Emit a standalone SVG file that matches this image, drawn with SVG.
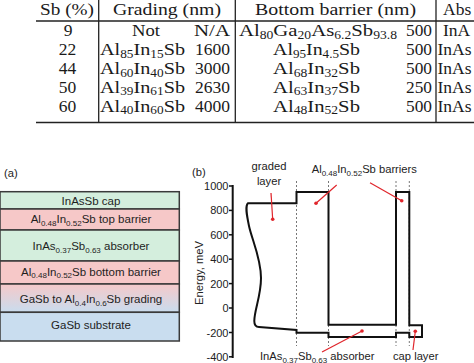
<svg xmlns="http://www.w3.org/2000/svg" width="474" height="363" viewBox="0 0 474 363">
<style>
.tb{font-family:"Liberation Serif",serif;font-size:17.5px;fill:#1a1a1a}
.sub{font-size:11.5px}
.tl{stroke:#222;stroke-width:1.3;fill:none}
.ls{font-family:"Liberation Sans",Arial,sans-serif;font-size:11.5px;fill:#1e1e1e;text-anchor:middle}
.ss{font-size:8px}
.lay{stroke:#3a3a3a;stroke-width:1.5}
.tick{font-family:"Liberation Sans",Arial,sans-serif;font-size:11px;fill:#222;text-anchor:end}
.ann{font-family:"Liberation Sans",Arial,sans-serif;font-size:11.2px;fill:#222}
.band{stroke:#111;stroke-width:2;fill:none;stroke-linejoin:miter}
.dash{stroke:#777;stroke-width:1;stroke-dasharray:2 2}
.red{stroke:#e0252b;stroke-width:1.2;fill:none}
.dot{fill:#e0252b}
</style>
<defs>
<linearGradient id="grad" x1="0" y1="0" x2="0" y2="1">
<stop offset="0" stop-color="#f5c9c9"/>
<stop offset="1" stop-color="#c9dcee"/>
</linearGradient>
</defs>
<g id="table">
<line class="tl" x1="36" y1="21" x2="474" y2="21"/>
<line class="tl" x1="36" y1="122.5" x2="474" y2="122.5"/>
<line class="tl" x1="98.7" y1="0" x2="98.7" y2="122.5"/>
<line class="tl" x1="235.3" y1="0" x2="235.3" y2="122.5"/>
<line class="tl" x1="436" y1="0" x2="436" y2="122.5"/>
<text class="tb" x="40" y="15" textLength="54" lengthAdjust="spacingAndGlyphs">Sb (%)</text>
<text class="tb" x="113" y="15" textLength="108" lengthAdjust="spacingAndGlyphs">Grading (nm)</text>
<text class="tb" x="255" y="15" textLength="161" lengthAdjust="spacingAndGlyphs">Bottom barrier (nm)</text>
<text class="tb" x="443" y="15">Abs</text>
<text class="tb" x="68" y="36" text-anchor="middle">9</text>
<text class="tb" x="132" y="36" textLength="28" lengthAdjust="spacingAndGlyphs">Not</text>
<text class="tb" x="194" y="36" textLength="36" lengthAdjust="spacingAndGlyphs">N/A</text>
<text class="tb" x="239" y="36" textLength="158" lengthAdjust="spacingAndGlyphs">Al<tspan class="sub" dy="2.5">80</tspan><tspan dy="-2.5">Ga</tspan><tspan class="sub" dy="2.5">20</tspan><tspan dy="-2.5">As</tspan><tspan class="sub" dy="2.5">6.2</tspan><tspan dy="-2.5">Sb</tspan><tspan class="sub" dy="2.5">93.8</tspan></text>
<text class="tb" x="406" y="36" textLength="26" lengthAdjust="spacingAndGlyphs">500</text>
<text class="tb" x="443" y="36">InA</text>
<text class="tb" x="67.5" y="55" text-anchor="middle">22</text>
<text class="tb" x="100" y="55" textLength="85" lengthAdjust="spacingAndGlyphs">Al<tspan class="sub" dy="2.5">85</tspan><tspan dy="-2.5">In</tspan><tspan class="sub" dy="2.5">15</tspan><tspan dy="-2.5">Sb</tspan></text>
<text class="tb" x="195" y="55" textLength="35" lengthAdjust="spacingAndGlyphs">1600</text>
<text class="tb" x="273" y="55" textLength="87" lengthAdjust="spacingAndGlyphs">Al<tspan class="sub" dy="2.5">95</tspan><tspan dy="-2.5">In</tspan><tspan class="sub" dy="2.5">4.5</tspan><tspan dy="-2.5">Sb</tspan></text>
<text class="tb" x="406" y="55" textLength="26" lengthAdjust="spacingAndGlyphs">500</text>
<text class="tb" x="437.5" y="55">InAs</text>
<text class="tb" x="67.5" y="74" text-anchor="middle">44</text>
<text class="tb" x="100" y="74" textLength="85" lengthAdjust="spacingAndGlyphs">Al<tspan class="sub" dy="2.5">60</tspan><tspan dy="-2.5">In</tspan><tspan class="sub" dy="2.5">40</tspan><tspan dy="-2.5">Sb</tspan></text>
<text class="tb" x="195" y="74" textLength="35" lengthAdjust="spacingAndGlyphs">3000</text>
<text class="tb" x="273" y="74" textLength="87" lengthAdjust="spacingAndGlyphs">Al<tspan class="sub" dy="2.5">68</tspan><tspan dy="-2.5">In</tspan><tspan class="sub" dy="2.5">32</tspan><tspan dy="-2.5">Sb</tspan></text>
<text class="tb" x="406" y="74" textLength="26" lengthAdjust="spacingAndGlyphs">500</text>
<text class="tb" x="437.5" y="74">InAs</text>
<text class="tb" x="67.5" y="92.7" text-anchor="middle">50</text>
<text class="tb" x="100" y="92.7" textLength="85" lengthAdjust="spacingAndGlyphs">Al<tspan class="sub" dy="2.5">39</tspan><tspan dy="-2.5">In</tspan><tspan class="sub" dy="2.5">61</tspan><tspan dy="-2.5">Sb</tspan></text>
<text class="tb" x="195" y="92.7" textLength="35" lengthAdjust="spacingAndGlyphs">2630</text>
<text class="tb" x="273" y="92.7" textLength="87" lengthAdjust="spacingAndGlyphs">Al<tspan class="sub" dy="2.5">63</tspan><tspan dy="-2.5">In</tspan><tspan class="sub" dy="2.5">37</tspan><tspan dy="-2.5">Sb</tspan></text>
<text class="tb" x="406" y="92.7" textLength="26" lengthAdjust="spacingAndGlyphs">250</text>
<text class="tb" x="437.5" y="92.7">InAs</text>
<text class="tb" x="67.5" y="111.5" text-anchor="middle">60</text>
<text class="tb" x="100" y="111.5" textLength="85" lengthAdjust="spacingAndGlyphs">Al<tspan class="sub" dy="2.5">40</tspan><tspan dy="-2.5">In</tspan><tspan class="sub" dy="2.5">60</tspan><tspan dy="-2.5">Sb</tspan></text>
<text class="tb" x="195" y="111.5" textLength="35" lengthAdjust="spacingAndGlyphs">4000</text>
<text class="tb" x="273" y="111.5" textLength="87" lengthAdjust="spacingAndGlyphs">Al<tspan class="sub" dy="2.5">48</tspan><tspan dy="-2.5">In</tspan><tspan class="sub" dy="2.5">52</tspan><tspan dy="-2.5">Sb</tspan></text>
<text class="tb" x="406" y="111.5" textLength="26" lengthAdjust="spacingAndGlyphs">500</text>
<text class="tb" x="437.5" y="111.5">InAs</text>
</g>
<g id="panel-a">
<text class="ann" x="4" y="177" font-size="12.5">(a)</text>
<g id="layer-cap">
<rect class="lay" x="0" y="191.7" width="179.3" height="17.3" fill="#d4eedd"/>
<text class="ls" x="91" y="205">InAsSb cap</text>
</g>
<g id="layer-top-barrier">
<rect class="lay" x="0" y="209" width="179.3" height="21" fill="#f6c8c8"/>
<text class="ls" x="91" y="223.3">Al<tspan class="ss" dy="2.5">0.48</tspan><tspan dy="-2.5">In</tspan><tspan class="ss" dy="2.5">0.52</tspan><tspan dy="-2.5">Sb top barrier</tspan></text>
</g>
<g id="layer-absorber">
<rect class="lay" x="0" y="230" width="179.3" height="31" fill="#d4eedd"/>
<text class="ls" x="91" y="250">InAs<tspan class="ss" dy="2.5">0.37</tspan><tspan dy="-2.5">Sb</tspan><tspan class="ss" dy="2.5">0.63</tspan><tspan dy="-2.5"> absorber</tspan></text>
</g>
<g id="layer-bottom-barrier">
<rect class="lay" x="0" y="261" width="179.3" height="23" fill="#f6c8c8"/>
<text class="ls" x="91" y="275.5">Al<tspan class="ss" dy="2.5">0.48</tspan><tspan dy="-2.5">In</tspan><tspan class="ss" dy="2.5">0.52</tspan><tspan dy="-2.5">Sb bottom barrier</tspan></text>
</g>
<g id="layer-grading">
<rect class="lay" x="0" y="284" width="179.3" height="28.3" fill="url(#grad)"/>
<text class="ls" x="91" y="303.3">GaSb to Al<tspan class="ss" dy="2.5">0.4</tspan><tspan dy="-2.5">In</tspan><tspan class="ss" dy="2.5">0.6</tspan><tspan dy="-2.5">Sb grading</tspan></text>
</g>
<g id="layer-substrate">
<rect class="lay" x="0" y="312.3" width="179.3" height="28.7" fill="#c9ddef"/>
<text class="ls" x="91" y="329.3">GaSb substrate</text>
</g>
</g>
<g id="panel-b">
<text class="ann" x="192" y="176" font-size="12.5">(b)</text>
<g id="axis">
<line x1="232.7" y1="185" x2="232.7" y2="358" stroke="#111" stroke-width="2"/>
<g stroke="#111" stroke-width="1.5">
<line x1="229" y1="186" x2="233" y2="186"/>
<line x1="229" y1="210.4" x2="233" y2="210.4"/>
<line x1="229" y1="234.8" x2="233" y2="234.8"/>
<line x1="229" y1="259.2" x2="233" y2="259.2"/>
<line x1="229" y1="283.6" x2="233" y2="283.6"/>
<line x1="229" y1="308" x2="233" y2="308"/>
<line x1="229" y1="332.5" x2="233" y2="332.5"/>
<line x1="229" y1="356.8" x2="233" y2="356.8"/>
</g>
<text class="tick" x="228.5" y="190">1000</text>
<text class="tick" x="228.5" y="214.4">800</text>
<text class="tick" x="228.5" y="238.8">600</text>
<text class="tick" x="228.5" y="263.2">400</text>
<text class="tick" x="228.5" y="287.6">200</text>
<text class="tick" x="228.5" y="312">0</text>
<text class="tick" x="228.5" y="336.5">-200</text>
<text class="tick" x="228.5" y="360.8">-400</text>
<text class="ann" x="0" y="0" font-size="9.5" text-anchor="middle" transform="translate(202.5 273) rotate(-90)">Energy, meV</text>
</g>
<g id="connectors">
<line class="dash" x1="296.5" y1="181" x2="296.5" y2="346"/>
<line class="dash" x1="328.5" y1="181" x2="328.5" y2="346"/>
<line class="dash" x1="396" y1="181" x2="396" y2="346"/>
<line class="dash" x1="409.3" y1="181" x2="409.3" y2="346"/>
<path class="band" d="M248 203.3 L296.5 203.3 L296.5 192 L328.5 192 L328.5 324.7 L396 324.7 L396 192 L409.3 192 L409.3 325.3 L422 325.3 L422 337 L409.3 337 L409.3 332.7 L396 332.7 L396 337 L328.5 337 L328.5 332.7 L296.5 332.7 L296.5 330 L259 327 Q254.3 327 254.3 321 C254.3 310 261 296 261 278 C261 258 252 240 249 226 C246.5 214 245 206 248 203.3 Z"/>
<line class="red" x1="271" y1="193" x2="272.7" y2="219.3"/>
<circle class="dot" cx="272.7" cy="219.3" r="1.8"/>
<line class="red" x1="336.7" y1="185" x2="316" y2="203.3"/>
<circle class="dot" cx="316" cy="203.3" r="1.8"/>
<line class="red" x1="370" y1="182.7" x2="401.7" y2="200.7"/>
<circle class="dot" cx="401.7" cy="200.7" r="1.8"/>
<line class="red" x1="362" y1="331" x2="322" y2="352"/>
<circle class="dot" cx="362" cy="331" r="1.8"/>
<line class="red" x1="415.3" y1="331.3" x2="413" y2="350"/>
<circle class="dot" cx="415.3" cy="331.3" r="1.8"/>
</g>
<text class="ann" x="269" y="170" text-anchor="middle">graded</text>
<text class="ann" x="269" y="185" text-anchor="middle">layer</text>
<text class="ann" x="311.7" y="173">Al<tspan font-size="8" dy="2.5">0.48</tspan><tspan dy="-2.5">In</tspan><tspan font-size="8" dy="2.5">0.52</tspan><tspan dy="-2.5">Sb barriers</tspan></text>
<text class="ann" x="260" y="360">InAs<tspan font-size="8" dy="2.5">0.37</tspan><tspan dy="-2.5">Sb</tspan><tspan font-size="8" dy="2.5">0.63</tspan><tspan dy="-2.5"> absorber</tspan></text>
<text class="ann" x="393" y="360">cap layer</text>
</g>
</svg>
